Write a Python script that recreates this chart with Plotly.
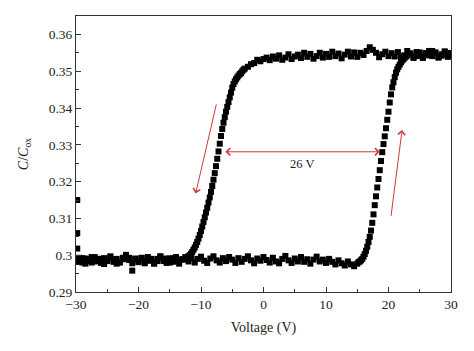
import plotly.graph_objects as go

# ---------------- data (C/Cox stored in units of 1e-4) ----------------
# forward sweep (-30 V -> +30 V)
FWD_START_V = [-29.8, -29.8, -29.8]
FWD_START_C = [3150, 3060, 3018]

FWD_FLAT_V = [-30, -29.5, -29, -28.5, -28, -27.5, -27, -26.5, -26, -25.5,
              -25, -24.5, -24, -23.5, -23, -22.5, -22, -21.5, -21, -20.5,
              -20, -19.5, -19, -18.5, -18, -17.5, -17, -16.5, -16, -15.5,
              -15, -14.5, -14, -13.5, -13, -12.5, -12, -11.5, -11, -10.5,
              -10, -9.5, -9, -8.5, -8, -7.5, -7, -6.5, -6, -5.5,
              -5, -4.5, -4, -3.5, -3, -2.5, -2, -1.5, -1, -0.5,
              0, 0.5, 1, 1.5, 2, 2.5, 3, 3.5, 4, 4.5,
              5, 5.5, 6, 6.5, 7, 7.5, 8, 8.5, 9, 9.5,
              10, 10.5, 11, 11.5, 12, 12.5, 13, 13.5, 14, 14.5, 15]
FWD_FLAT_C = [2982, 2993, 2980, 2991, 2984, 2995, 2983, 2990, 2979, 2992,
              2984, 2994, 2982, 2990, 2980, 2993, 2998, 2987, 2978, 2989,
              2981, 2992, 2983, 2995, 2985, 2978, 2990, 2996, 2984, 2991,
              2980, 2992, 2985, 2977, 2989, 2995, 2983, 2991, 2980, 2990,
              2996, 2985, 2979, 2991, 2997, 2986, 2980, 2992, 2984, 2995,
              2988, 2979, 2992, 2982, 2990, 2997, 2986, 2978, 2991, 2985,
              2995, 2987, 2980, 2993, 2983, 2978, 2990, 2998, 2986, 2979,
              2991, 2983, 2995, 2982, 2989, 2977, 2988, 2996, 2983, 2988,
              2979, 2990, 2982, 2975, 2986, 2978, 2972, 2983, 2975, 2970, 2977]

FWD_RISE_V = [15.2, 15.4, 15.6, 15.8, 16.0, 16.2, 16.4, 16.6, 16.8, 17.0,
              17.2, 17.4, 17.6, 17.8, 18.0, 18.2, 18.4, 18.6, 18.8, 19.0,
              19.2, 19.4, 19.6, 19.8, 20.0, 20.2, 20.4, 20.6, 20.8, 21.0,
              21.2, 21.4, 21.6, 21.8, 22.0, 22.2, 22.4, 22.6, 22.8, 23.0]
FWD_RISE_C = [2981, 2983, 2986, 2990, 2996, 3003, 3012, 3023, 3036, 3050,
              3067, 3088, 3111, 3136, 3160, 3184, 3207, 3231, 3256, 3280,
              3302, 3323, 3345, 3368, 3390, 3415, 3437, 3456, 3470, 3484,
              3496, 3505, 3512, 3518, 3524, 3529, 3533, 3537, 3540, 3543]

FWD_TOP_V = [23.5, 24, 24.5, 25, 25.5, 26, 26.5, 27, 27.5, 28, 28.5, 29, 29.5, 30]
FWD_TOP_C = [3548, 3539, 3552, 3543, 3536, 3549, 3555, 3541, 3551, 3538, 3546, 3554, 3542, 3549]

# reverse sweep (+30 V -> -30 V)
REV_TOP_V = [30, 29.5, 29, 28.5, 28, 27.5, 27, 26.5, 26, 25.5,
             25, 24.5, 24, 23.5, 23, 22.5, 22, 21.5, 21, 20.5,
             20, 19.5, 19, 18.5, 18, 17.5, 17, 16.5, 16, 15.5,
             15, 14.5, 14, 13.5, 13, 12.5, 12, 11.5, 11, 10.5,
             10, 9.5, 9, 8.5, 8, 7.5, 7, 6.5, 6, 5.5,
             5, 4.5, 4, 3.5, 3, 2.5, 2, 1.5, 1, 0.5,
             0, -0.5, -1, -1.5, -2, -2.5]
REV_TOP_C = [3549, 3539, 3552, 3542, 3537, 3550, 3555, 3543, 3548, 3538,
             3551, 3541, 3536, 3548, 3555, 3543, 3538, 3552, 3540, 3549,
             3541, 3553, 3546, 3538, 3550, 3558, 3565, 3555, 3544, 3550,
             3539, 3551, 3540, 3553, 3545, 3535, 3548, 3541, 3553, 3539,
             3547, 3537, 3550, 3541, 3534, 3547, 3539, 3550, 3536, 3545,
             3540, 3533, 3546, 3537, 3531, 3543, 3534, 3540, 3530, 3537,
             3533, 3527, 3531, 3522, 3519, 3512]

REV_FALL_V = [-3.0, -3.2, -3.4, -3.6, -3.8, -4.0, -4.2, -4.4, -4.6, -4.8,
              -5.0, -5.2, -5.4, -5.6, -5.8, -6.0, -6.2, -6.4, -6.6, -6.8,
              -7.0, -7.2, -7.4, -7.6, -7.8, -8.0, -8.2, -8.4, -8.6, -8.8,
              -9.0, -9.2, -9.4, -9.6, -9.8, -10.0, -10.2, -10.4, -10.6, -10.8,
              -11.0, -11.2, -11.4, -11.6, -11.8, -12.0, -12.2, -12.4, -12.6, -12.8, -13.0]
REV_FALL_C = [3507, 3504, 3500, 3495, 3492, 3488, 3483, 3478, 3472, 3465,
              3455, 3442, 3429, 3416, 3403, 3390, 3375, 3360, 3343, 3324,
              3303, 3282, 3262, 3242, 3223, 3205, 3188, 3172, 3157, 3143,
              3129, 3116, 3103, 3090, 3078, 3066, 3055, 3045, 3036, 3028,
              3021, 3015, 3009, 3004, 3000, 2997, 2994, 2992, 2990, 2989, 2988]

REV_BOT_V = [-13.5, -14, -14.5, -15, -15.5, -16, -16.5, -17, -17.5, -18,
             -18.5, -19, -19.5, -20, -20.5, -21, -21.5, -22, -22.5, -23,
             -23.5, -24, -24.5, -25, -25.5, -26, -26.5, -27, -27.5, -28,
             -28.5, -29, -29.5, -30]
REV_BOT_C = [2986, 2995, 2982, 2991, 2979, 2989, 2997, 2984, 2977, 2990,
             2986, 2978, 2993, 2983, 2991, 2958, 2993, 3001, 2989, 2981,
             2977, 2989, 2997, 2985, 2976, 2990, 2984, 2995, 2980, 2989,
             2977, 2992, 2983, 2988]

X_TICKS = [-30, -20, -10, 0, 10, 20, 30]
Y_TICKS = [0.29, 0.30, 0.31, 0.32, 0.33, 0.34, 0.35, 0.36]
Y_TICK_TEXT = ["0.29", "0.3", "0.31", "0.32", "0.33", "0.34", "0.35", "0.36"]

# annotation arrows: (tail V, tail C, head V, head C)
ARROW_DOWN = (-7.49, 0.3414, -10.85, 0.3168)
ARROW_UP = (20.38, 0.3103, 22.17, 0.3340)
ARROW_SPAN = (-6.33, 0.3281, 18.6, 0.3281)
SPAN_LABEL = "26 V"

# ---------------- build ----------------
volts = (FWD_START_V + FWD_FLAT_V + FWD_RISE_V + FWD_TOP_V
         + REV_TOP_V + REV_FALL_V + REV_BOT_V)
caps = [c / 1e4 for c in (FWD_START_C + FWD_FLAT_C + FWD_RISE_C + FWD_TOP_C
                          + REV_TOP_C + REV_FALL_C + REV_BOT_C)]

SERIF = "Liberation Serif, Times New Roman, serif"
RED = "rgb(204,58,58)"

fig = go.Figure()
fig.add_trace(go.Scatter(
    x=volts, y=caps, mode="markers",
    marker=dict(symbol="square", size=6, color="black", line=dict(width=0)),
    showlegend=False, hoverinfo="skip"))

def arrow(a, both=False):
    return dict(x=a[2], y=a[3], ax=a[0], ay=a[1], xref="x", yref="y",
                axref="x", ayref="y", text="", showarrow=True,
                arrowhead=4, arrowsize=1.4, arrowwidth=1, arrowcolor=RED,
                arrowside="end+start" if both else "end",
                startarrowhead=4, startarrowsize=1.4)

fig.update_layout(
    width=474, height=351,
    margin=dict(l=76, r=23, t=16, b=59),
    paper_bgcolor="white", plot_bgcolor="white",
    font=dict(family=SERIF, size=13, color="#222"),
    annotations=[
        arrow(ARROW_DOWN), arrow(ARROW_UP), arrow(ARROW_SPAN, both=True),
        dict(x=(ARROW_SPAN[0] + ARROW_SPAN[2]) / 2, y=ARROW_SPAN[1], xref="x", yref="y",
             text=SPAN_LABEL, showarrow=False, yshift=-12,
             font=dict(family=SERIF, size=12.5, color="#222")),
    ],
)
fig.update_xaxes(
    range=[-30, 30], tickvals=X_TICKS, ticks="inside", ticklen=5, tickwidth=1,
    tickcolor="#333", showline=True, linecolor="#333", linewidth=1, mirror=True,
    showgrid=False, zeroline=False,
    minor=dict(dtick=5, tick0=0, ticks="inside", ticklen=3, tickcolor="#333", showgrid=False),
    tickfont=dict(family=SERIF, size=13.5),
    title=dict(text="Voltage (V)", font=dict(family=SERIF, size=14), standoff=10),
)
fig.update_yaxes(
    range=[0.29, 0.365], tickvals=Y_TICKS, ticktext=Y_TICK_TEXT, ticks="inside",
    ticklen=5, tickwidth=1, tickcolor="#333", showline=True, linecolor="#333",
    linewidth=1, mirror=True, showgrid=False, zeroline=False,
    minor=dict(dtick=0.005, tick0=0.29, ticks="inside", ticklen=3, tickcolor="#333", showgrid=False),
    tickfont=dict(family=SERIF, size=13.5),
    title=dict(text="<i>C</i>/<i>C</i><sub>ox</sub>", font=dict(family=SERIF, size=14), standoff=16),
)

fig.write_html("out.html")
